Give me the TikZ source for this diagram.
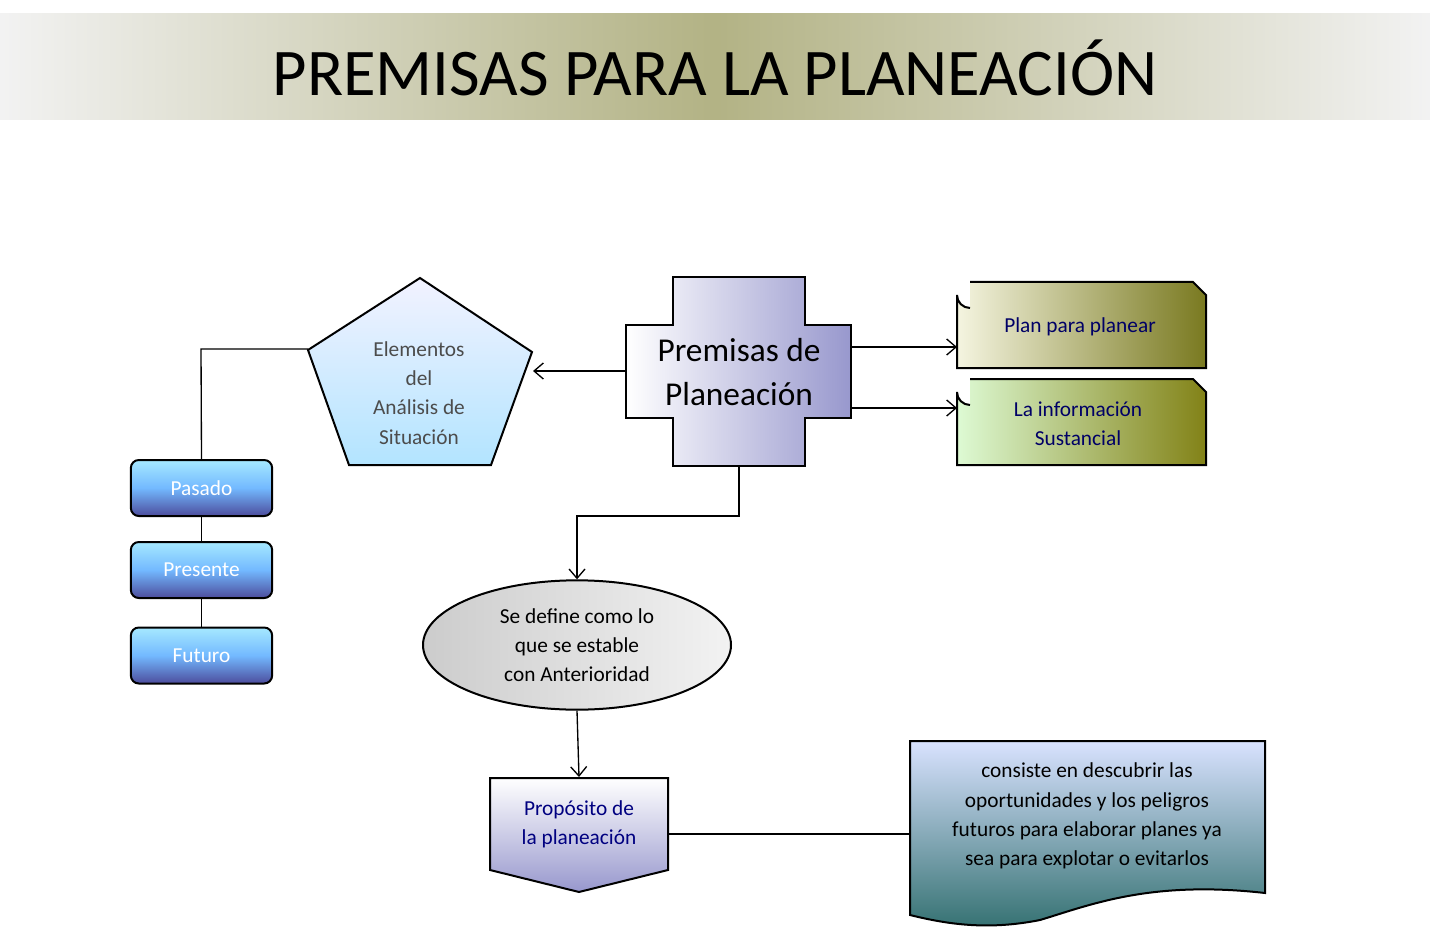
\documentclass[tikz,border=0pt]{standalone}
\usepackage{fontspec}
\setmainfont{Carlito}
\usetikzlibrary{shapes.geometric,arrows.meta}
\begin{document}
\begin{tikzpicture}[x=0.75pt,y=-0.75pt,
 ln/.style={draw=black,line width=1pt},
 ar/.style={ln,-{Straight Barb[length=7pt,width=12pt]}},
 blk/.style={draw=black,line width=1.5pt},
 bbox/.style={blk,rounded corners=6pt,top color=blue!25!cyan!35,bottom color=blue!45!black!70,middle color=blue!50!cyan!55},
 txt/.style={align=center,font=\fontsize{16}{22}\selectfont}]
\useasboundingbox (0,0) rectangle (1430,930);
\fill[white] (0,0) rectangle (1430,930);
% title band
\shade[left color=gray!10,right color=gray!10,middle color=gray!70!olive!60] (0,14) rectangle (715,120);
\shade[left color=gray!70!olive!60,right color=gray!10] (715,14) rectangle (1430,120);
\shade[left color=gray!10,right color=gray!70!olive!60] (0,14) rectangle (715,120);
\node (title) at (715,68) {\fontsize{50}{60}\selectfont PREMISAS PARA LA PLANEACIÓN};
% cross
\shade[blk,left color=white,right color=gray!65!blue!60]
 (673,277)--(805,277)--(805,325)--(851,325)--(851,418)--(805,418)--(805,466)--(673,466)--(673,418)--(626,418)--(626,325)--(673,325)--cycle;
\node[align=center,font=\fontsize{25}{33}\selectfont] (prem) at (739,372) {Premisas de\\Planeación};
\coordinate (premL) at (626,371);
\coordinate (premR1) at (851,347);
\coordinate (premR2) at (851,408);
\coordinate (premB) at (739,466);
% pentagon
\shade[blk,top color=blue!5,bottom color=blue!35!cyan!30]
 (420,278)--(532,352)--(491,465)--(349,465)--(308,350)--cycle;
\node[txt,text=black!70] (elem) at (419,393) {Elementos\\del\\Análisis de\\Situación};
\coordinate (pentR) at (533,371);
\coordinate (pentL) at (308,349);
% time boxes
\node[bbox,minimum width=106pt,minimum height=42pt,txt,text=white] (pas) at (201.5,488) {Pasado};
\node[bbox,minimum width=106pt,minimum height=42pt,txt,text=white] (pre) at (201.5,570) {Presente};
\node[bbox,minimum width=106pt,minimum height=42pt,txt,text=white] (fut) at (201.5,655.5) {Futuro};
\draw[ln] (pentL) -- (201,349) -- (pas.north);
\draw[ln] (pas) -- (pre);
\draw[ln] (pre) -- (fut);
\draw[ar] (premL) -- (pentR);
% right boxes
\shade[blk,left color=olive!8,right color=olive!50!black!70]
 (970,282)--(1193,282)--(1206,295)--(1206,368)--(957,368)--(957,295) arc(180:90:13);
\node[txt,text=blue!40!black] (plan) at (1080,327) {Plan para planear};
\shade[blk,left color=olive!25!green!15,right color=olive!60!black!70]
 (970,379)--(1193,379)--(1206,392)--(1206,465)--(957,465)--(957,392) arc(180:90:13);
\node[txt,text=blue!40!black] (info) at (1078,424) {La información\\Sustancial};
\draw[ar] (premR1) -- (957,347);
\draw[ar] (premR2) -- (957,408);
% ellipse
\node[ellipse,blk,minimum width=231pt,minimum height=97pt,left color=gray!40,right color=gray!10,txt] (def) at (577,645) {Se define como lo\\que se estable\\con Anterioridad};
\draw[ar] (premB) -- (739,516) -- (577,516) -- (def.north);
% purpose
\shade[blk,top color=white,bottom color=blue!35!gray!60]
 (490,778)--(668,778)--(668,870)--(579,892)--(490,870)--cycle;
\node[txt,text=blue!50!black] (prop) at (579,824) {Propósito de\\la planeación};
\coordinate (propT) at (579,777);
\coordinate (propR) at (668,834);
\draw[ar] (def.south) -- (propT);
% document
\shade[blk,top color=cyan!25!blue!15,bottom color=teal!60!black!80]
 (910,741)--(1265,741)--(1265,893) .. controls (1150,880) and (1090,905) .. (1040,920) .. controls (990,930) and (950,925) .. (910,915) -- cycle;
\node[txt] (cons) at (1087,816) {consiste en descubrir las\\oportunidades y los peligros\\futuros para elaborar planes ya\\sea para explotar o evitarlos};
\draw[ln] (propR) -- (910,834);
\end{tikzpicture}
\end{document}
